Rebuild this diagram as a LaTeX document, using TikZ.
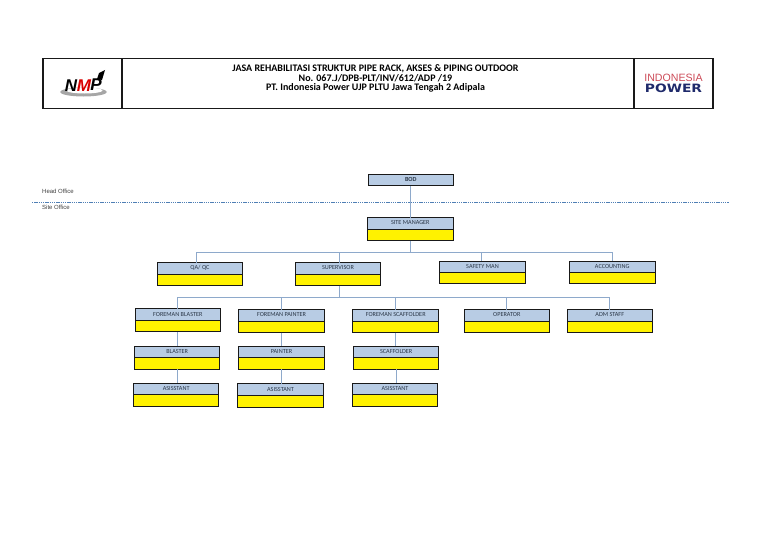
\documentclass[tikz,border=0pt]{standalone}
\usepackage{fontspec}
\setmainfont{Carlito}
\newfontfamily\arialfont{Liberation Sans}
\newfontfamily\wideboldfont{DejaVu Sans}
\usetikzlibrary{positioning}
\definecolor{boxblue}{HTML}{B8CCE4}
\definecolor{linkblue}{HTML}{8EA9CB}
\definecolor{dashblue}{HTML}{4F7FB5}
\definecolor{labelgrey}{HTML}{2A3646}
\definecolor{powernavy}{HTML}{1F2A6B}
\definecolor{indored}{HTML}{CC4A57}
\tikzset{
   topbox/.style={draw=black!90, line width=1pt, fill=boxblue, minimum width=85.5pt,
     minimum height=11.5pt, inner sep=0pt, outer sep=0pt, text=labelgrey,
     text height=4.2pt, text depth=1.2pt, font=\fontsize{6.2}{7}\selectfont},
   fillbox/.style={draw=black!90, line width=1pt, fill=yellow, minimum width=85.5pt,
     minimum height=11.5pt, inner sep=0pt, outer sep=0pt},
   cell/.style={draw=black!90, line width=1.1pt, minimum height=50pt, inner sep=0pt, outer sep=0pt},
   office/.style={inner sep=0pt, text=black!75, font=\arialfont\fontsize{6}{7}\selectfont},
   logoletter/.style={inner sep=0pt, font=\arialfont\bfseries\itshape\fontsize{17}{17}\selectfont},
   link/.style={draw=linkblue, line width=.9pt}
}
\begin{document}
\begin{tikzpicture}[x=1pt, y=-1pt]
   \useasboundingbox (0,0) rectangle (768,543);

   % header
   \node[cell, minimum width=79pt]  (logocell)  at (82.5,83.5) {};
   \node[cell, minimum width=512pt, right=0pt of logocell] (titlecell) {};
   \node[cell, minimum width=79pt,  right=0pt of titlecell] (powercell) {};
   \node[align=center, inner sep=0pt, font=\bfseries\fontsize{10}{9.7}\selectfont] (title) at (375.5,78.5)
     {JASA REHABILITASI STRUKTUR PIPE RACK, AKSES \& PIPING OUTDOOR\\
      No. 067.J/DPB-PLT/INV/612/ADP /19\\
      PT. Indonesia Power UJP PLTU Jawa Tengah 2 Adipala};

   % logo left
   \fill[black!35] (83.5,92) ellipse [x radius=23.5, y radius=4.5];
   \fill[white] (84.5,90.5) ellipse [x radius=18, y radius=3];
   \node[logoletter] (nmpn) at (71,86) {N};
   \node[logoletter, text=red!85!black] (nmpm) at (84,86) {M};
   \node[logoletter] (nmpp) at (96,85) {P};
   \fill[black] (97,79) -- (99,73) -- (105,70) -- (102,80) -- cycle;

   % logo right
   \node[inner sep=0pt, text=indored, font=\arialfont\fontsize{10.6}{11}\selectfont] (indonesia) at (673.5,77.5) {INDONESIA};
   \node[inner sep=0pt, text=powernavy, font=\wideboldfont\bfseries\fontsize{11.5}{12}\selectfont] (power) at (673.5,88) {\scalebox{1.2}[1]{POWER}};

   % office border
   \coordinate (borderL) at (32,202.7);
   \coordinate (borderR) at (729,202.7);
   \node[office, anchor=west] (headoffice) at (42,191.5) {Head Office};
   \node[office, anchor=west] (siteoffice) at (42,207) {Site Office};
   \draw[dashblue, line width=.8pt, dash pattern=on 1.4pt off .8pt] (borderL) -- (borderR);

   % boxes
   \node[topbox] (bod) at (410.8,180) {\bfseries BOD};

   \node[topbox] (sm) at (410.3,223.4) {SITE MANAGER};
   \node[fillbox, below=0pt of sm] (smfill) {};

   \node[topbox] (qa) at (200,268.3) {QA/ QC};
   \node[fillbox, below=0pt of qa] (qafill) {};
   \node[topbox] (sup) at (338,268.3) {SUPERVISOR};
   \node[fillbox, below=0pt of sup] (supfill) {};
   \node[topbox, minimum height=11pt] (safety) at (482.5,266.8) {SAFETY MAN};
   \node[fillbox, minimum height=11pt, below=0pt of safety] (safetyfill) {};
   \node[topbox, minimum height=11pt] (acc) at (612.3,266.8) {ACCOUNTING};
   \node[fillbox, minimum height=11pt, below=0pt of acc] (accfill) {};

   \node[topbox] (fblaster) at (177.8,314.5) {FOREMAN BLASTER};
   \node[fillbox, below=0pt of fblaster] (fblasterfill) {};
   \node[topbox] (fpainter) at (281.5,315.3) {FOREMAN PAINTER};
   \node[fillbox, below=0pt of fpainter] (fpainterfill) {};
   \node[topbox] (fscaff) at (395.7,315.3) {FOREMAN SCAFFOLDER};
   \node[fillbox, below=0pt of fscaff] (fscafffill) {};
   \node[topbox] (oper) at (506.8,315.3) {OPERATOR};
   \node[fillbox, below=0pt of oper] (operfill) {};
   \node[topbox] (adm) at (609.8,315.3) {ADM STAFF};
   \node[fillbox, below=0pt of adm] (admfill) {};

   \node[topbox] (blaster) at (177.2,351.8) {BLASTER};
   \node[fillbox, below=0pt of blaster] (blasterfill) {};
   \node[topbox] (painter) at (281.5,352.2) {PAINTER};
   \node[fillbox, below=0pt of painter] (painterfill) {};
   \node[topbox] (scaff) at (396.2,351.8) {SCAFFOLDER};
   \node[fillbox, below=0pt of scaff] (scafffill) {};

   \node[topbox] (asst1) at (176.2,389.2) {ASISSTANT};
   \node[fillbox, below=0pt of asst1] (asst1fill) {};
   \node[topbox] (asst2) at (280.5,389.6) {ASISSTANT};
   \node[fillbox, minimum height=12.5pt, below=0pt of asst2] (asst2fill) {};
   \node[topbox] (asst3) at (395,388.9) {ASISSTANT};
   \node[fillbox, below=0pt of asst3] (asst3fill) {};

   % connectors
   \coordinate (busA) at (409.7,252.2);
   \coordinate (busB) at (339,297.7);

   \path[link]
     (bod) edge (bod |- sm.north)
     (smfill) edge (smfill.south |- busA);
   \draw[link] (busA) -| ([xshift=-3.7pt]qa.north);
   \draw[link] (busA) -| ([xshift=1pt]sup.north);
   \draw[link] (busA) -| ([xshift=-1.2pt]safety.north);
   \draw[link] (busA) -| (acc.north);

   \path[link] ([xshift=1pt]supfill.south) edge (busB);
   \draw[link] (busB) -| (fblaster.north);
   \draw[link] (busB) -| (fpainter.north);
   \draw[link] (busB) -| (fscaff.north);
   \draw[link] (busB) -| (oper.north);
   \draw[link] (busB) -| (adm.north);

   \path[link]
     (fblasterfill.south) edge (fblasterfill.south |- blaster.north)
     (blasterfill.south) edge ([xshift=1pt]asst1.north)
     (fpainterfill.south) edge (fpainterfill.south |- painter.north)
     (painterfill.south) edge (painterfill.south |- asst2.north)
     (fscafffill.south) edge (fscafffill.south |- scaff.north)
     (scafffill.south) edge (scafffill.south |- asst3.north);
\end{tikzpicture}
\end{document}
